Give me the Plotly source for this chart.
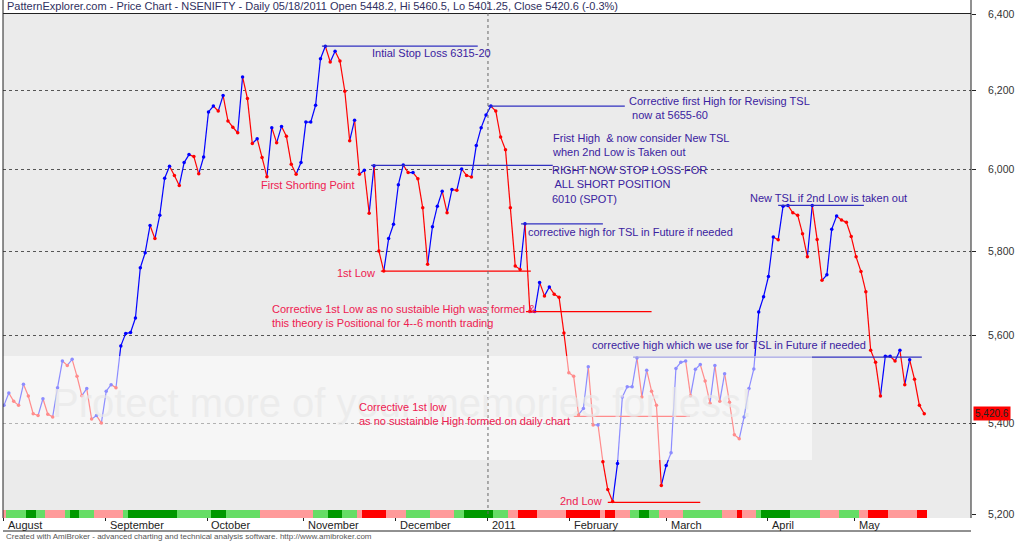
import plotly.graph_objects as go

# daily closes, NSENIFTY, Aug 2010 - 18 May 2011
closes = [
    5440, 5468, 5449, 5440, 5488, 5461, 5421, 5417, 5455, 5420, 5414, 5480, 5541, 5531, 5545, 5506, 5462, 5478,
    5409, 5417, 5400, 5472, 5487, 5480, 5576, 5605, 5607, 5641, 5760, 5796, 5862, 5830, 5887, 5978, 6008,
    5985, 5960, 6017, 6037, 6032, 5989, 6031, 6145, 6160, 6147, 6187, 6122, 6106, 6092, 6235, 6179, 6065,
    6077, 6030, 5982, 6105, 6067, 6108, 6083, 6013, 5988, 6017, 6119, 6119, 6162, 6282, 6315, 6274,
    6302, 6276, 6198, 6072, 6124, 5988, 5998, 5892, 6009, 5800, 5752, 5830, 5865, 5962, 6011, 5992, 5992,
    5977, 5905, 5768, 5859, 5909, 5946, 5893, 5950, 5948, 6001, 5985, 5981, 6060, 6105, 6137, 6160, 6147, 6081,
    6049, 5905, 5764, 5756, 5866, 5656, 5656, 5725, 5693, 5714, 5697, 5690, 5606, 5514, 5506, 5419, 5433,
    5528, 5396, 5396, 5314, 5253, 5227, 5310, 5459, 5482, 5482, 5548, 5459, 5520, 5472, 5440, 5262, 5306,
    5334, 5524, 5538, 5541, 5462, 5522, 5533, 5495, 5445, 5531, 5449, 5512, 5447, 5374, 5365, 5414, 5478,
    5523, 5655, 5691, 5739, 5834, 5827, 5909, 5911, 5893, 5887, 5842, 5786, 5911, 5828, 5730, 5743, 5853,
    5885, 5875, 5870, 5835, 5786, 5751, 5703, 5566, 5538, 5461, 5552, 5552, 5541, 5566, 5487, 5544, 5499,
    5440, 5421,
]

month_names = ["August", "September", "October", "November", "December", "2011",
               "February", "March", "April", "May"]
month_pos = [0, 20.9, 41.7, 61.6, 80.5, 99.4, 116.2, 136.1, 156.9, 174.7]

y_ticks = [5200, 5400, 5600, 5800, 6000, 6200, 6400]

# ribbon at the bottom: (code, number of days)
ribbon_runs = [
    ("P", 1), ("L", 4), ("D", 2), ("L", 2), ("P", 4), ("L", 1), ("D", 2), ("L", 3), ("P", 6), ("L", 1),
    ("D", 10), ("L", 7), ("D", 3), ("L", 7), ("P", 11), ("L", 3), ("D", 3), ("L", 3), ("P", 1), ("R", 5),
    ("P", 4), ("L", 5), ("P", 5), ("L", 2), ("D", 6), ("L", 3), ("P", 2), ("R", 4), ("P", 6), ("R", 7),
    ("P", 1), ("R", 2), ("P", 3), ("L", 2), ("D", 2), ("L", 2), ("P", 5), ("L", 8), ("P", 3), ("R", 1),
    ("P", 3), ("L", 1), ("D", 6), ("L", 6), ("P", 4), ("L", 4), ("P", 2), ("R", 4), ("P", 6), ("R", 2),
]
ribbon_colors = {"P": "#ff9a9a", "L": "#66dd66", "D": "#009900", "R": "#ff0000"}

# horizontal level lines: start day, end day, level, colour
level_x0 = [65.3, 99.4, 75.4, 106.2, 77.4, 107.2, 129.2, 117, 124, 159]
level_x1 = [97.3, 127.5, 112.7, 123, 108.2, 133, 188.5, 140.9, 143, 176.6]
level_y = [6315, 6160, 6010, 5866, 5752, 5656, 5550, 5415, 5225, 5911]
level_col = ["b", "b", "b", "b", "r", "r", "b", "r", "r", "b"]

BLUE, RED = "#0000ff", "#ff0000"
NAVY, PINK = "#3a22a0", "#ee2050"

days = list(range(len(closes)))

up_x, up_y, dn_x, dn_y = [], [], [], []
for i in range(1, len(closes)):
    if closes[i] >= closes[i - 1]:
        up_x += [i - 1, i, None]
        up_y += [closes[i - 1], closes[i], None]
    else:
        dn_x += [i - 1, i, None]
        dn_y += [closes[i - 1], closes[i], None]
pt_col = [BLUE] + [BLUE if closes[i] >= closes[i - 1] else RED for i in range(1, len(closes))]

fig = go.Figure()
fig.add_trace(go.Scatter(x=up_x, y=up_y, mode="lines", line=dict(color=BLUE, width=1.2), hoverinfo="skip"))
fig.add_trace(go.Scatter(x=dn_x, y=dn_y, mode="lines", line=dict(color=RED, width=1.2), hoverinfo="skip"))
fig.add_trace(go.Scatter(x=days, y=closes, mode="markers", marker=dict(color=pt_col, size=3.5)))

for x0, x1, lv, c in zip(level_x0, level_x1, level_y, level_col):
    fig.add_trace(go.Scatter(x=[x0, x1], y=[lv, lv], mode="lines",
                             line=dict(color="#3030c0" if c == "b" else RED, width=1.2), hoverinfo="skip"))

rib = []
for code, n in ribbon_runs:
    rib += [ribbon_colors[code]] * n
rib = rib[:len(closes)]
fig.add_trace(go.Bar(x=days[:len(rib)], y=[1] * len(rib), marker=dict(color=rib, line_width=0),
                     width=1.0, yaxis="y2", hoverinfo="skip"))

PLOT_H = 518


def px(x):
    return (x - 3) / 968


def py(y):
    return (PLOT_H - y) / PLOT_H


notes = [
    ("Intial Stop Loss 6315-20", 370, 53, NAVY),
    ("Corrective first High for Revising TSL<br> now at 5655-60", 627, 108, NAVY),
    ("Frist High  & now consider New TSL<br>when 2nd Low is Taken out", 550, 145, NAVY),
    ("RIGHT NOW STOP LOSS FOR<br> ALL SHORT POSITION<br>6010 (SPOT)", 550, 185, NAVY),
    ("corrective high for TSL in Future if needed", 526, 232, NAVY),
    ("New TSL if 2nd Low is taken out", 748, 198, NAVY),
    ("corrective high which we use for TSL in Future if needed", 590, 345, NAVY),
    ("First Shorting Point", 259, 185, PINK),
    ("1st Low", 335, 273, PINK),
    ("Corrective 1st Low as no sustaible High was formed &<br>this theory is Positional for 4--6 month trading",
     270, 316, PINK),
    ("Corrective 1st low<br>as no sustainble High formed on daily chart", 357, 414, PINK),
    ("2nd Low", 558, 501, PINK),
]
ann = []
# faint photo-host watermark, drawn first so the notes sit on top
ann.append(dict(text="Protect more of your memories for less!", x=px(50), y=py(403), xref="paper", yref="paper",
                xanchor="left", yanchor="middle", showarrow=False,
                font=dict(color="rgba(232,232,232,0.7)", size=40)))
for t, x, y, c in notes:
    ann.append(dict(text=t, x=px(x), y=py(y), xref="paper", yref="paper", xanchor="left", yanchor="middle",
                    align="left", showarrow=False, font=dict(color=c, size=11)))
for name, pos in zip(month_names, month_pos):
    ann.append(dict(text=name, x=pos + 0.4, y=py(525), xref="x", yref="paper", xanchor="left",
                    yanchor="middle", showarrow=False, font=dict(color="#222", size=11)))
ann.append(dict(text="PatternExplorer.com - Price Chart - NSENIFTY - Daily 05/18/2011 Open 5448.2, Hi 5460.5, "
                     "Lo 5401.25, Close 5420.6 (-0.3%)",
                x=px(5), y=py(6), xref="paper", yref="paper", xanchor="left", yanchor="middle",
                showarrow=False, font=dict(color="#303060", size=11)))
ann.append(dict(text="Created with AmiBroker - advanced charting and technical analysis software. "
                     "http://www.amibroker.com",
                x=px(4), y=py(536), xref="paper", yref="paper", xanchor="left", yanchor="middle",
                showarrow=False, font=dict(color="#555", size=8)))
ann.append(dict(text="5,420.6", x=px(973), y=py(413), xref="paper", yref="paper", xanchor="left",
                yanchor="middle", showarrow=False, bgcolor="#ff0000", borderpad=1,
                font=dict(color="#222", size=10)))

shapes = [
    dict(type="rect", xref="paper", yref="paper", x0=0, x1=px(812), y0=py(460), y1=py(356),
         fillcolor="rgba(255,255,255,0.55)", line_width=0, layer="above"),
    dict(type="line", xref="x", yref="paper", x0=99.4, x1=99.4, y0=py(514), y1=1,
         line=dict(color="#666", width=1, dash="dot")),
    dict(type="line", xref="paper", yref="paper", x0=0, x1=1, y0=py(531), y1=py(531),
         line=dict(color="#222", width=1)),
    dict(type="line", xref="paper", yref="paper", x0=1, x1=1, y0=0, y1=1, line=dict(color="#222", width=1)),
    dict(type="line", xref="paper", yref="paper", x0=0, x1=0, y0=0, y1=1, line=dict(color="#222", width=1)),
]

fig.update_layout(
    width=1022, height=542, margin=dict(l=3, r=51, t=0, b=24, autoexpand=False),
    paper_bgcolor="white", plot_bgcolor="#ebebeb", showlegend=False,
    font=dict(family="Liberation Sans, Arial, sans-serif"),
    annotations=ann, shapes=shapes, bargap=0,
    xaxis=dict(range=[-0.2, 198.6], tickvals=month_pos, showticklabels=False, ticks="outside",
               ticklen=6, tickcolor="#222", showgrid=False, zeroline=False, automargin=False,
               showline=True, linecolor="#222", mirror=True),
    yaxis=dict(type="log", range=[3.716003, 3.80618], domain=[py(514), py(14)], side="right",
               tickvals=y_ticks, ticktext=[f"{v:,}" for v in y_ticks], ticks="outside", ticklen=4,
               tickcolor="#222", ticklabelstandoff=10, tickfont=dict(size=10.5, color="#333"),
               showgrid=True, gridcolor="#555", griddash="dot", gridwidth=1, zeroline=False,
               automargin=False, showline=False),
    yaxis2=dict(domain=[0, py(510)], range=[0, 1], visible=False),
)

fig.write_html("out.html", config={"displayModeBar": False},
               post_script="document.body.style.margin='0';document.body.style.overflow='hidden';")
